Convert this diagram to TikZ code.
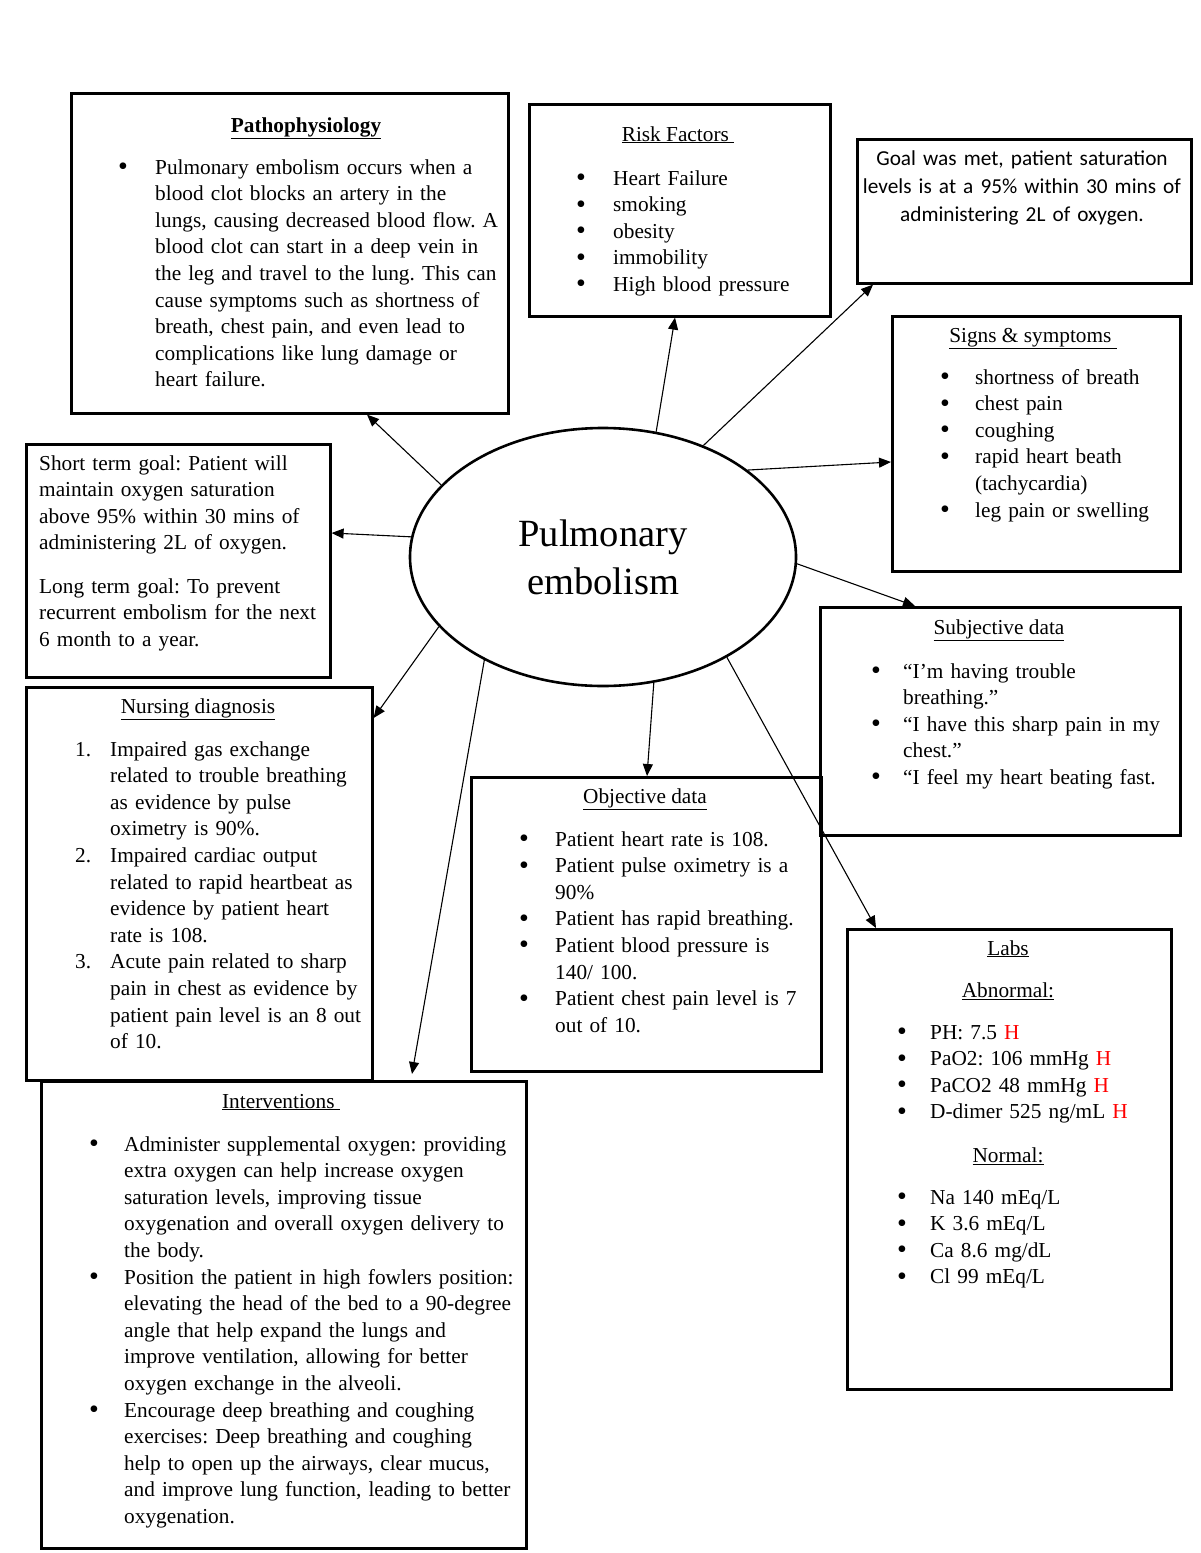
\documentclass[tikz,border=0pt]{standalone}
\usepackage{fontspec}
\setmainfont{Liberation Serif}
\newfontfamily\calib{Carlito}
\usetikzlibrary{shapes.geometric,arrows.meta}
\frenchspacing
\newlength{\bw}
\newcommand{\bdot}{\raisebox{-1.5pt}{\fontsize{28}{0}\selectfont\textbullet}}
\newcommand{\Bu}[1]{\makebox[\bw][l]{\bdot}#1}
\newcommand{\Co}[1]{\hspace*{\bw}#1}
\newcommand{\Nu}[2]{\makebox[\bw][l]{#1}#2}
\newcommand{\Hh}{\textcolor{red}{H}}
\begin{document}
\begin{tikzpicture}[x=1pt,y=-1pt,
  box/.style={draw, line width=2.6pt, anchor=north west, inner sep=0pt},
  txt/.style={anchor=base west, inner sep=0pt, align=left, text width=470pt,
    font=\fontsize{21.3}{26.6}\selectfont},
  ttl/.style={anchor=base, inner sep=0pt, font=\fontsize{21.3}{26.6}\selectfont},
  arr/.style={line width=1.1pt, -{Triangle[length=12pt,width=10pt]}}]
\useasboundingbox[fill=white] (0,0) rectangle (1200,1553);

% boxes
\node[box, minimum width=437pt, minimum height=320pt] (patho) at (70,92) {};
\node[box, minimum width=301pt, minimum height=212pt] (risk) at (528,103) {};
\node[box, minimum width=334pt, minimum height=144pt] (goal) at (856,138) {};
\node[box, minimum width=288pt, minimum height=255pt] (signs) at (891,315) {};
\node[box, minimum width=360pt, minimum height=228pt] (subj) at (819,606) {};
\node[box, minimum width=350pt, minimum height=294pt] (obj) at (470,776) {};
\node[box, minimum width=324pt, minimum height=460pt] (labs) at (846,928) {};
\node[box, minimum width=304pt, minimum height=233pt] (stg) at (25,443) {};
\node[box, minimum width=346pt, minimum height=393pt] (nurs) at (25,686) {};
\node[box, minimum width=485pt, minimum height=467pt] (interv) at (40,1080) {};

% central ellipse
\node[draw, ellipse, line width=2.6pt, minimum width=386pt, minimum height=258pt,
  inner sep=0pt, align=center, font=\fontsize{38.5}{48}\selectfont] (pe) at (603,557)
  {Pulmonary\\embolism};

% Pathophysiology
\node[ttl] (pathoT) at (306,132) {\textbf{\underline{Pathophysiology}}};
\node[txt] (pathoL) at (118,174) {\setlength{\bw}{37pt}%
\Bu{Pulmonary embolism occurs when a}\\
\Co{blood clot blocks an artery in the}\\
\Co{lungs, causing decreased blood flow. A}\\
\Co{blood clot can start in a deep vein in}\\
\Co{the leg and travel to the lung. This can}\\
\Co{cause symptoms such as shortness of}\\
\Co{breath, chest pain, and even lead to}\\
\Co{complications like lung damage or}\\
\Co{heart failure.}};

% Risk factors
\node[ttl] (riskT) at (678,141) {\underline{Risk Factors\ }};
\node[txt] (riskL) at (576,185) {\setlength{\bw}{37pt}%
\Bu{Heart Failure}\\
\Bu{smoking}\\
\Bu{obesity}\\
\Bu{immobility}\\
\Bu{High blood pressure}};

% Goal met
\node[anchor=base, inner sep=0pt, align=center, text width=330pt,
  font=\calib\fontsize{21.3}{28}\selectfont] (goalT) at (1022,165)
  {Goal was met, patient saturation\\levels is at a 95\% within 30 mins of\\administering 2L of oxygen.};

% Signs & symptoms
\node[ttl] (signsT) at (1033,342) {\underline{Signs \& symptoms\ }};
\node[txt] (signsL) at (940,384) {\setlength{\bw}{35pt}%
\Bu{shortness of breath}\\
\Bu{chest pain}\\
\Bu{coughing}\\
\Bu{rapid heart beath}\\
\Co{(tachycardia)}\\
\Bu{leg pain or swelling}};

% Subjective data
\node[ttl] (subjT) at (999,634) {\underline{Subjective data}};
\node[txt] (subjL) at (871,678) {\setlength{\bw}{32pt}%
\Bu{“I’m having trouble}\\
\Co{breathing.”}\\
\Bu{“I have this sharp pain in my}\\
\Co{chest.”}\\
\Bu{“I feel my heart beating fast.}};

% Objective data
\node[ttl] (objT) at (645,803) {\underline{Objective data}};
\node[txt] (objL) at (519,846) {\setlength{\bw}{36pt}%
\Bu{Patient heart rate is 108.}\\
\Bu{Patient pulse oximetry is a}\\
\Co{90\%}\\
\Bu{Patient has rapid breathing.}\\
\Bu{Patient blood pressure is}\\
\Co{140/ 100.}\\
\Bu{Patient chest pain level is 7}\\
\Co{out of 10.}};

% Labs
\node[ttl] (labsT) at (1008,955) {\underline{Labs}};
\node[ttl] (abnT) at (1008,997) {\underline{Abnormal:}};
\node[txt] (abnL) at (897,1039) {\setlength{\bw}{33pt}%
\Bu{PH: 7.5 \Hh}\\
\Bu{PaO2: 106 mmHg \Hh}\\
\Bu{PaCO2 48 mmHg \Hh}\\
\Bu{D-dimer 525 ng/mL \Hh}};
\node[ttl] (normT) at (1008,1162) {\underline{Normal:}};
\node[txt] (normL) at (897,1204) {\setlength{\bw}{33pt}%
\Bu{Na 140 mEq/L}\\
\Bu{K 3.6 mEq/L}\\
\Bu{Ca 8.6 mg/dL}\\
\Bu{Cl 99 mEq/L}};

% Short / long term goals
\node[txt] (stgL) at (39,470) {Short term goal: Patient will\\
maintain oxygen saturation\\
above 95\% within 30 mins of\\
administering 2L of oxygen.};
\node[txt] (ltgL) at (39,593) {Long term goal: To prevent\\
recurrent embolism for the next\\
6 month to a year.};

% Nursing diagnosis
\node[ttl] (nursT) at (198,713) {\underline{Nursing diagnosis}};
\node[txt] (nursL) at (75,756) {\setlength{\bw}{35pt}%
\Nu{1.}{Impaired gas exchange}\\
\Co{related to trouble breathing}\\
\Co{as evidence by pulse}\\
\Co{oximetry is 90\%.}\\
\Nu{2.}{Impaired cardiac output}\\
\Co{related to rapid heartbeat as}\\
\Co{evidence by patient heart}\\
\Co{rate is 108.}\\
\Nu{3.}{Acute pain related to sharp}\\
\Co{pain in chest as evidence by}\\
\Co{patient pain level is an 8 out}\\
\Co{of 10.}};

% Interventions
\node[ttl] (intervT) at (281,1108) {\underline{Interventions\ }};
\node[txt] (intervL) at (89,1151) {\setlength{\bw}{35pt}%
\Bu{Administer supplemental oxygen: providing}\\
\Co{extra oxygen can help increase oxygen}\\
\Co{saturation levels, improving tissue}\\
\Co{oxygenation and overall oxygen delivery to}\\
\Co{the body.}\\
\Bu{Position the patient in high fowlers position:}\\
\Co{elevating the head of the bed to a 90-degree}\\
\Co{angle that help expand the lungs and}\\
\Co{improve ventilation, allowing for better}\\
\Co{oxygen exchange in the alveoli.}\\
\Bu{Encourage deep breathing and coughing}\\
\Co{exercises: Deep breathing and coughing}\\
\Co{help to open up the airways, clear mucus,}\\
\Co{and improve lung function, leading to better}\\
\Co{oxygenation.}};

% connectors
\draw[arr] (pe.156.7) -- ([xshift=297pt]patho.south west);
\draw[arr] (pe.67.7) -- ([xshift=147pt]risk.south west);
\draw[arr] (pe.48.7) -- ([xshift=17pt]goal.south west);
\draw[arr] (pe.31.3) -- ([yshift=-147pt]signs.north west);
\draw[arr] (pe.-2.7) -- ([xshift=96pt]subj.north west);
\draw[arr] (pe.-39.4) -- ([xshift=30pt]labs.north west);
\draw[arr] (pe.-68) -- ([xshift=177pt]obj.north west);
\draw[arr] (pe.221.3) -- ([xshift=372pt,yshift=6pt]interv.north west);
\draw[arr] (pe.203.1) -- ([yshift=-32pt]nurs.north east);
\draw[arr] (pe.174.6) -- ([yshift=-90pt]stg.north east);
\end{tikzpicture}
\end{document}
